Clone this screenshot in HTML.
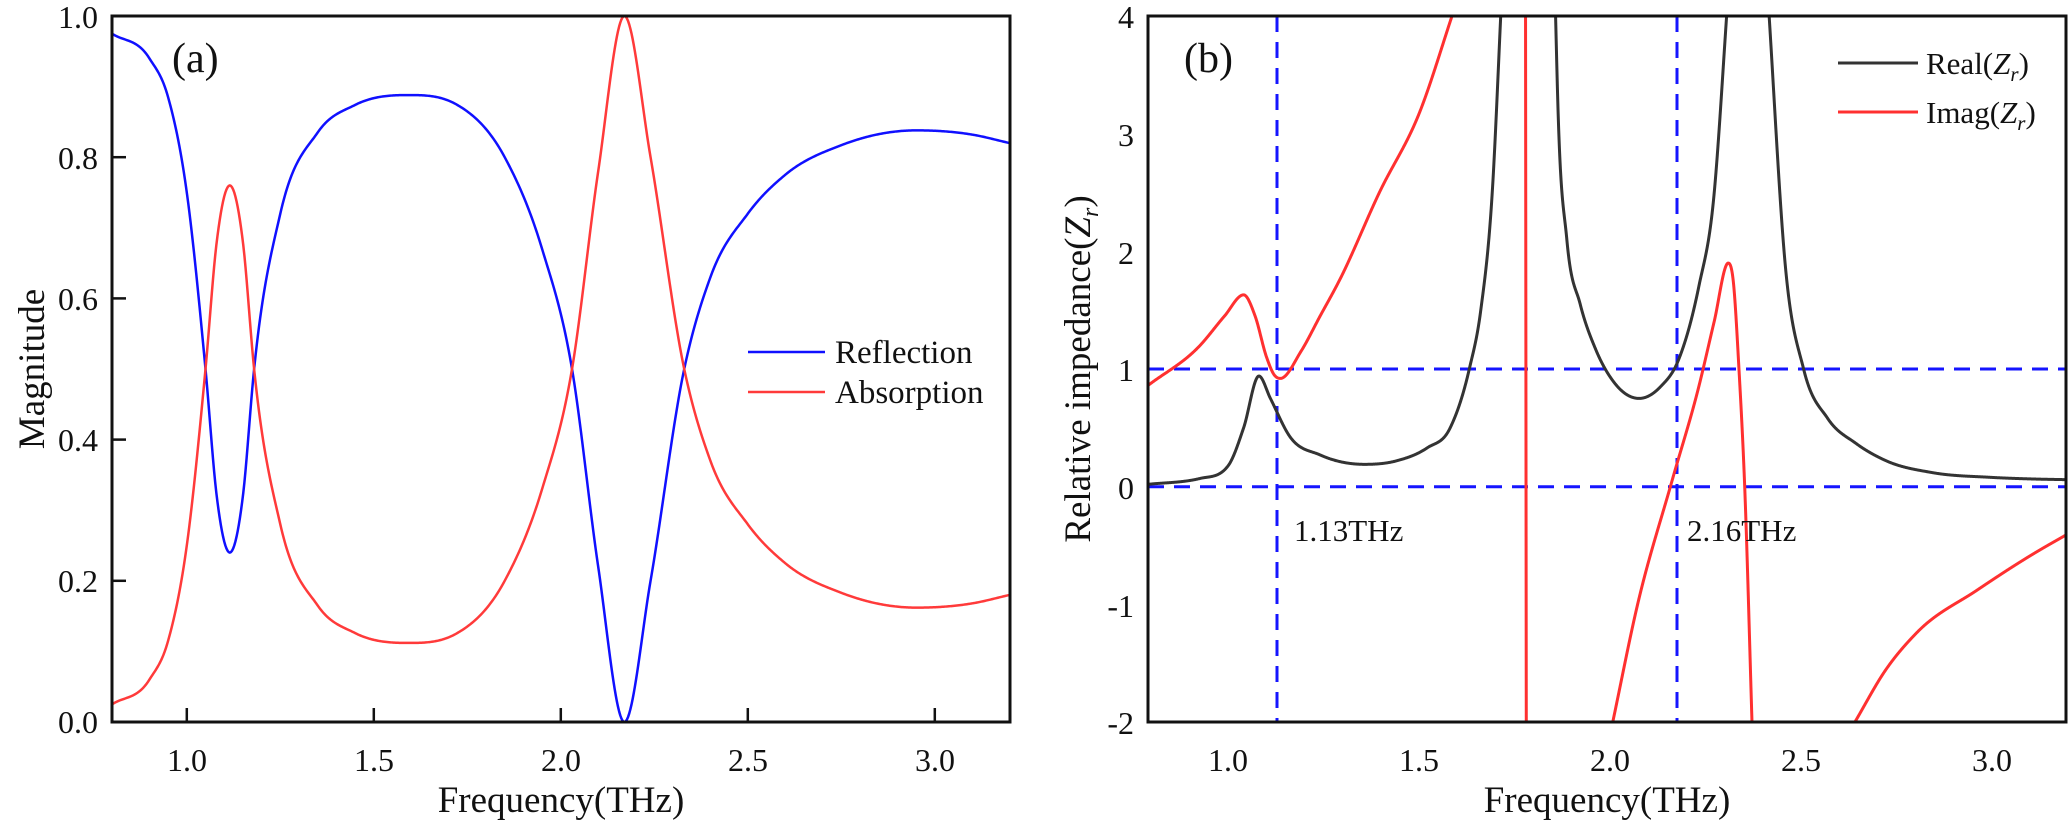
<!DOCTYPE html>
<html><head><meta charset="utf-8"><style>
html,body{margin:0;padding:0;background:#fff;}
svg{display:block;}
text{font-family:"Liberation Serif",serif;fill:#111;}
</style></head><body>
<svg id="s" width="2070" height="821" viewBox="0 0 2070 821" xmlns="http://www.w3.org/2000/svg">
<defs>
<clipPath id="ca"><rect x="112" y="16" width="898" height="706"/></clipPath>
<clipPath id="cb"><rect x="1148" y="16" width="918" height="706"/></clipPath>
</defs>
<g id="ga" clip-path="url(#ca)"></g>
<g id="gb" clip-path="url(#cb)"></g>
<rect x="112" y="16" width="898" height="706" fill="none" stroke="#111" stroke-width="3"/>
<rect x="1148" y="16" width="918" height="706" fill="none" stroke="#111" stroke-width="3"/>
<g id="ticks" stroke="#111" stroke-width="2.5"></g>
<g font-size="32" text-anchor="end">
<text x="98" y="28">1.0</text><text x="98" y="169">0.8</text><text x="98" y="310">0.6</text>
<text x="98" y="451">0.4</text><text x="98" y="592">0.2</text><text x="98" y="733">0.0</text>
<text x="1134" y="28">4</text><text x="1134" y="146">3</text><text x="1134" y="264">2</text>
<text x="1134" y="381">1</text><text x="1134" y="499">0</text><text x="1134" y="617">-1</text><text x="1134" y="734">-2</text>
</g>
<g font-size="32" text-anchor="middle">
<text x="187" y="771">1.0</text><text x="374" y="771">1.5</text><text x="561" y="771">2.0</text><text x="748" y="771">2.5</text><text x="935" y="771">3.0</text>
<text x="1228" y="771">1.0</text><text x="1419" y="771">1.5</text><text x="1610" y="771">2.0</text><text x="1801" y="771">2.5</text><text x="1992" y="771">3.0</text>
</g>
<text x="561" y="812" font-size="37" text-anchor="middle">Frequency(THz)</text>
<text x="1607" y="812" font-size="37" text-anchor="middle">Frequency(THz)</text>
<text transform="translate(44,369) rotate(-90)" font-size="37" text-anchor="middle">Magnitude</text>
<text transform="translate(1090,369) rotate(-90)" font-size="37" text-anchor="middle">Relative impedance(<tspan font-style="italic">Z</tspan><tspan font-style="italic" font-size="24" dy="8">r</tspan><tspan dy="-8">)</tspan></text>
<text x="172" y="72" font-size="42">(a)</text>
<text x="1184" y="72" font-size="42">(b)</text>
<line x1="748" y1="352" x2="825" y2="352" stroke="#1010ff" stroke-width="2.5"/>
<line x1="748" y1="392" x2="825" y2="392" stroke="#ff3a3a" stroke-width="2.5"/>
<text x="835" y="363" font-size="33">Reflection</text>
<text x="835" y="403" font-size="33">Absorption</text>
<line x1="1838" y1="63" x2="1918" y2="63" stroke="#333" stroke-width="3"/>
<line x1="1838" y1="112" x2="1918" y2="112" stroke="#ff3030" stroke-width="3"/>
<text x="1926" y="74" font-size="31">Real(<tspan font-style="italic">Z</tspan><tspan font-style="italic" font-size="21" dy="7">r</tspan><tspan dy="-7">)</tspan></text>
<text x="1926" y="123" font-size="31">Imag(<tspan font-style="italic">Z</tspan><tspan font-style="italic" font-size="21" dy="7">r</tspan><tspan dy="-7">)</tspan></text>
<text x="1294" y="541" font-size="31">1.13THz</text>
<text x="1687" y="541" font-size="31">2.16THz</text>
</svg>
<script>
var NS="http://www.w3.org/2000/svg";
function mono(pts){var n=pts.length,xs=pts.map(p=>p[0]),ys=pts.map(p=>p[1]),d=[],m=[];
for(var i=0;i<n-1;i++)d.push((ys[i+1]-ys[i])/(xs[i+1]-xs[i]));
m[0]=d[0];m[n-1]=d[n-2];for(i=1;i<n-1;i++){if(d[i-1]*d[i]<=0)m[i]=0;else{var h0=xs[i]-xs[i-1],h1=xs[i+1]-xs[i];m[i]=(h0*d[i]+h1*d[i-1])/(h0+h1);}}
for(i=0;i<n-1;i++){if(d[i]==0){m[i]=0;m[i+1]=0;continue;}var a=m[i]/d[i],b=m[i+1]/d[i],s=a*a+b*b;if(s>9){var t=3/Math.sqrt(s);m[i]=t*a*d[i];m[i+1]=t*b*d[i];}}
return function(x){var k=0;while(k<n-2&&x>xs[k+1])k++;var h=xs[k+1]-xs[k],t=(x-xs[k])/h,t2=t*t,t3=t2*t;
return (2*t3-3*t2+1)*ys[k]+(t3-2*t2+t)*h*m[k]+(-2*t3+3*t2)*ys[k+1]+(t3-t2)*h*m[k+1];};}
function path(g,pts,X,Y,col,w,fn){var f=mono(pts),x0=pts[0][0],x1=pts[pts.length-1][0],s="";
for(var i=0;i<=800;i++){var x=x0+(x1-x0)*i/800,y=f(x);if(fn)y=fn(y);s+=(i?"L":"M")+X(x).toFixed(2)+","+Y(y).toFixed(2);}
var p=document.createElementNS(NS,"path");p.setAttribute("d",s);p.setAttribute("fill","none");p.setAttribute("stroke",col);p.setAttribute("stroke-width",w);p.setAttribute("stroke-linejoin","round");g.appendChild(p);}
var Xa=f=>112+(f-0.8)*374,Ya=v=>722-v*706;
var R=[[0.8,.975],[0.9,.94],[0.95,.885],[1.0,.75],[1.05,.5],[1.08,.32],[1.115,.24],[1.15,.32],[1.18,.5],[1.25,.72],[1.35,.835],[1.45,.874],[1.59,.888],[1.72,.875],[1.85,.8],[1.95,.67],[2.03,.5],[2.1,.22],[2.17,0.0],[2.24,.2],[2.33,.5],[2.4,.63],[2.5,.72],[2.6,.775],[2.75,.817],[2.95,.838],[3.1,.832],[3.2,.82]];
var ga=document.getElementById("ga");
path(ga,R,Xa,Ya,"#1010ff",2.5);
path(ga,R,Xa,Ya,"#ff3a3a",2.5,y=>1-y);
var Xb=f=>1148+(f-0.8)*382.5,Yb=v=>486.7-v*117.7;
var gb=document.getElementById("gb");
function dl(x1,y1,x2,y2){var l=document.createElementNS(NS,"line");l.setAttribute("x1",x1);l.setAttribute("y1",y1);l.setAttribute("x2",x2);l.setAttribute("y2",y2);l.setAttribute("stroke","#1515ff");l.setAttribute("stroke-width",3);l.setAttribute("stroke-dasharray","16,10");gb.appendChild(l);}
dl(1148,Yb(1),2066,Yb(1));dl(1148,Yb(0),2066,Yb(0));dl(1277,16,1277,722);dl(1677,16,1677,722);
var re=[[[0.8,0.02],[0.936,0.07],[1.01,0.18],[1.05,0.5],[1.09,0.94],[1.12,0.75],[1.17,0.43],[1.25,0.27],[1.366,0.19],[1.45,0.22],[1.53,0.33],[1.59,0.5],[1.64,1.0],[1.67,1.5],[1.70,2.5],[1.725,4.2]],
[[1.864,4.2],[1.872,3.2],[1.895,2.1],[1.93,1.55],[1.97,1.17],[2.02,0.88],[2.084,0.75],[2.14,0.85],[2.186,1.07],[2.24,1.7],[2.278,2.42],[2.317,4.2]],
[[2.42,4.2],[2.467,1.85],[2.514,1.0],[2.577,0.58],[2.65,0.37],[2.73,0.22],[2.85,0.12],[3.0,0.08],[3.12,0.065],[3.2,0.06]]];
re.forEach(s=>path(gb,s,Xb,Yb,"#333",3));
var im=[[[0.8,0.86],[0.936,1.2],[1.0,1.45],[1.05,1.63],[1.08,1.45],[1.11,1.1],[1.13,0.95],[1.146,0.92],[1.2,1.15],[1.25,1.45],[1.3,1.75],[1.405,2.5],[1.51,3.18],[1.6,4.05]],
[[1.787,4.1],[1.789,-2.1]],
[[2.015,-2],[2.08,-1],[2.17,0.05],[2.24,0.85],[2.28,1.4],[2.317,1.9],[2.33,1.75],[2.345,1.0],[2.36,0],[2.38,-2.1]],
[[2.648,-2],[2.73,-1.55],[2.81,-1.24],[2.967,-0.88],[3.12,-0.56],[3.2,-0.41]]];
im.forEach(s=>path(gb,s,Xb,Yb,"#ff3030",3));
var tk=document.getElementById("ticks"),h="";
for(var f=1.0;f<=3.01;f+=0.5)h+='<line x1="'+Xa(f)+'" y1="722" x2="'+Xa(f)+'" y2="708"/>';
for(var v=0.2;v<=0.81;v+=0.2)h+='<line x1="112" y1="'+Ya(v)+'" x2="126" y2="'+Ya(v)+'"/>';
tk.innerHTML=h;
</script>
</body></html>
